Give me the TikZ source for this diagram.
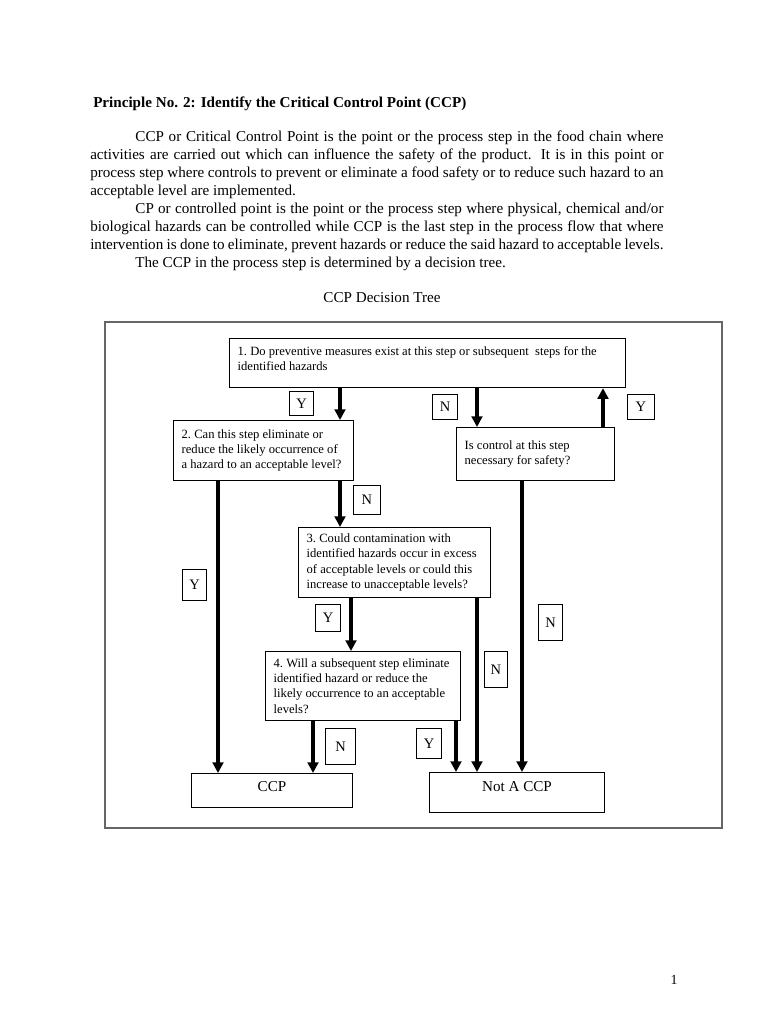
\documentclass[tikz,border=0pt]{standalone}
\usepackage{fontspec}
\setmainfont{Liberation Serif}
\usetikzlibrary{arrows.meta}

\begin{document}
\begin{tikzpicture}[x=0.0279cm,y=-0.0279cm]
\useasboundingbox (0,0) rectangle (768,1024);

\node[anchor=base west,inner sep=0pt,font=\fontsize{12}{14.3}\selectfont\bfseries] (title) at (93,107) {Principle No. 2: Identify the Critical Control Point (CCP)};
\node[anchor=north west,inner sep=0pt,text width=15.99cm,text height=0pt,align=justify,font=\fontsize{12}{14.3}\selectfont] (intro) at (90,141) {\tolerance=10000
\hspace*{1.26cm}CCP or Critical Control Point is the point or the process step in the food chain where\linebreak
activities are carried out which can influence the safety of the product. It is in this point or\linebreak
process step where controls to prevent or eliminate a food safety or to reduce such hazard to an\linebreak
acceptable level are implemented.\par
\hspace*{1.26cm}CP or controlled point is the point or the process step where physical, chemical and/or\linebreak
biological hazards can be controlled while CCP is the last step in the process flow that where\linebreak
intervention is done to eliminate, prevent hazards or reduce the said hazard to acceptable levels.\par
\hspace*{1.26cm}The CCP in the process step is determined by a decision tree.};
\node[anchor=base,inner sep=0pt,font=\fontsize{12}{14.3}\selectfont] (treetitle) at (382,302) {CCP Decision Tree};

\draw[draw=black!60,line width=1.6pt] (105,322) rectangle (722,828);

\tikzstyle{qbox}=[draw,line width=0.8pt,anchor=north west,inner xsep=6.5pt,inner ysep=3pt,align=flush left,font=\fontsize{10}{12.2}\selectfont\frenchspacing]
\node[qbox,text width=10.59cm,inner ysep=6.5pt,text height=7pt,text depth=19pt] (q1) at (229,338) {1. Do preventive measures exist at this step or subsequent\ \ steps for the\\identified hazards};
\node[qbox,text width=4.56cm,minimum height=1.674cm] (q2) at (173,420) {2. Can this step eliminate or\\reduce the likely occurrence of\\a hazard to an acceptable level?};
\node[qbox,text width=3.95cm,minimum height=1.479cm] (qc) at (456,427) {Is control at this step\\necessary for safety?};
\node[qbox,text width=4.90cm,minimum height=1.953cm] (q3) at (298,527) {3. Could contamination with\\identified hazards occur in excess\\of acceptable levels or could this\\increase to unacceptable levels?};
\node[qbox,text width=4.98cm,minimum height=1.925cm] (q4) at (265,651) {4. Will a subsequent step eliminate\\identified hazard or reduce the\\likely occurrence to an acceptable\\levels?};

\tikzstyle{endbox}=[draw,line width=0.8pt,anchor=north west,inner sep=0pt,font=\fontsize{12}{14}\selectfont,text height=8pt]
\node[endbox,minimum width=4.492cm,minimum height=0.949cm,text depth=6pt] (ccp) at (191,773) {CCP};
\node[endbox,minimum width=4.883cm,minimum height=1.116cm,text depth=9pt] (nccp) at (429,772) {Not A CCP};

\tikzstyle{yn}=[draw,line width=0.8pt,anchor=north west,inner sep=0pt,font=\fontsize{11.5}{13}\selectfont]
\node[yn,minimum width=0.67cm,minimum height=0.67cm] (y1) at (289,391) {Y};
\node[yn,minimum width=0.70cm,minimum height=0.70cm] (n1) at (432,394) {N};
\node[yn,minimum width=0.75cm,minimum height=0.70cm] (y2) at (627,394) {Y};
\node[yn,minimum width=0.67cm,minimum height=0.86cm] (y3) at (182,569) {Y};
\node[yn,minimum width=0.75cm,minimum height=0.81cm] (n2) at (353,485) {N};
\node[yn,minimum width=0.70cm,minimum height=0.75cm] (y4) at (315,604) {Y};
\node[yn,minimum width=0.64cm,minimum height=1.00cm] (n3) at (484,651) {N};
\node[yn,minimum width=0.67cm,minimum height=1.00cm] (n4) at (538,604) {N};
\node[yn,minimum width=0.84cm,minimum height=1.00cm] (n5) at (325,728) {N};
\node[yn,minimum width=0.70cm,minimum height=0.84cm] (y5) at (416,728) {Y};

\coordinate (xq2) at (340,0);
\coordinate (xqc) at (477,0);
\coordinate (xup) at (603,0);
\coordinate (xccp) at (218,0);
\coordinate (xq4) at (351,0);
\coordinate (xctl) at (522,0);
\coordinate (xccp2) at (313,0);
\coordinate (xnot) at (456,0);

\tikzstyle{arr}=[line width=2.6pt,-{Triangle[width=8.5pt,length=8.5pt]}]
\draw[arr] (xq2 |- q1.south) -- (xq2 |- q2.north);
\draw[arr] (xqc |- q1.south) -- (xqc |- qc.north);
\draw[arr] (xup |- qc.north) -- (xup |- q1.south);
\draw[arr] (xccp |- q2.south) -- (xccp |- ccp.north);
\draw[arr] (xq2 |- q2.south) -- (xq2 |- q3.north);
\draw[arr] (xq4 |- q3.south) -- (xq4 |- q4.north);
\draw[arr] (xqc |- q3.south) -- (xqc |- nccp.north);
\draw[arr] (xctl |- qc.south) -- (xctl |- nccp.north);
\draw[arr] (xccp2 |- q4.south) -- (xccp2 |- ccp.north);
\draw[arr] (xnot |- q4.south) -- (xnot |- nccp.north);

\node[anchor=base,inner sep=0pt,font=\fontsize{11}{13}\selectfont] (pagenum) at (674,984) {1};
\end{tikzpicture}
\end{document}
